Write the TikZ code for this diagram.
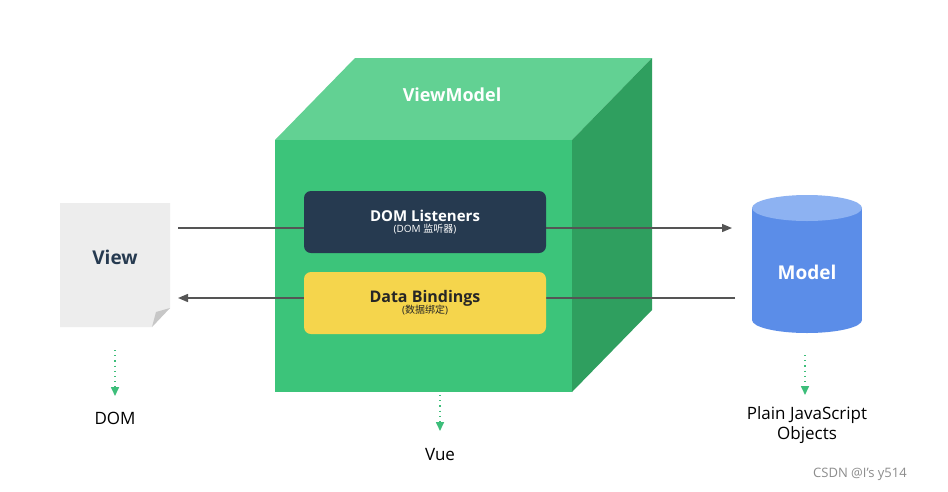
\documentclass[tikz,border=0pt]{standalone}
\usepackage{fontspec}
\setmainfont{Open Sans}
\newfontfamily\cjk{Noto Sans CJK SC}
\usetikzlibrary{shapes.geometric,arrows.meta}
\definecolor{gfront}{HTML}{3CC47A}
\definecolor{gtop}{HTML}{62D193}
\definecolor{gside}{HTML}{2F9F5F}
\definecolor{navy}{HTML}{263A50}
\definecolor{yel}{HTML}{F5D54C}
\definecolor{blu}{HTML}{5B8DE8}
\definecolor{blut}{HTML}{8DB2F2}
\definecolor{dots}{HTML}{3DBE7A}
\definecolor{ln}{HTML}{555555}
\begin{document}
\begin{tikzpicture}[x=1pt,y=-1pt,
  box/.style={rounded corners=7pt,minimum width=242pt,minimum height=62pt,inner sep=0pt},
  conn/.style={ln,line width=1.4pt},
  dotarr/.style={dots,line width=1.6pt,dash pattern=on 1.2pt off 4pt,-{Triangle[width=8pt,length=9pt,sep=-3pt]}},
  lbl/.style={font=\fontsize{17}{20}\selectfont,text=black,align=center}]
\useasboundingbox (0,0) rectangle (948,491);
\fill[white] (0,0) rectangle (948,491);
% cube
\fill[gtop] (275,140) -- (355,58) -- (652,58) -- (572,140) -- cycle;
\fill[gside] (572,140) -- (652,58) -- (652,310) -- (572,392) -- cycle;
\fill[gfront] (275,140) rectangle (572,392);
\node[text=white,font=\bfseries\fontsize{18}{20}\selectfont] (vmt) at (452,95) {ViewModel};
% view
\fill[black!7] (60,203) -- (170,203) -- (170,308) -- (152,327) -- (60,327) -- cycle;
\fill[black!22] (170,308) -- (152,327) -- (156,312) -- cycle;
\node[font=\bfseries\fontsize{19}{22}\selectfont,text=navy] (view) at (115,257) {View};
% model
\fill[blu] (752,208) rectangle (862,320);
\fill[blu] (807,320) ellipse (55pt and 13pt);
\fill[blut] (807,208) ellipse (55pt and 13pt);
\node[font=\bfseries\fontsize{19}{22}\selectfont,text=white] (model) at (807,272) {Model};
\coordinate (vR) at (178,228); \coordinate (vR2) at (178,298);
\coordinate (mL) at (732,228); \coordinate (mL2) at (735,298);
\draw[conn,-{Triangle[width=8pt,length=10pt]}] (vR) -- (mL);
\draw[conn,-{Triangle[width=8pt,length=10pt]}] (mL2) -- (vR2);
% boxes
\node[box,fill=navy,text=white,align=center] (dl) at (425,222)
 {{\bfseries\fontsize{15}{17}\selectfont DOM Listeners}\\[-1pt]{\fontsize{10}{12}\selectfont (DOM {\cjk 监听器})}};
\node[box,fill=yel,text=black!85,align=center] (db) at (425,303)
 {{\bfseries\fontsize{16}{18}\selectfont Data Bindings}\\[-2pt]{\fontsize{10}{12}\selectfont ({\cjk 数据绑定})}};
% dotted arrows
\coordinate (d1) at (115,350); \coordinate (d1e) at (115,393);
\coordinate (d2) at (440,395); \coordinate (d2e) at (440,428);
\coordinate (d3) at (805,355); \coordinate (d3e) at (805,392);
\draw[dotarr] (d1) -- (d1e);
\draw[dotarr] (d2) -- (d2e);
\draw[dotarr] (d3) -- (d3e);
\node[lbl] (dom) at (115,418) {DOM};
\node[lbl] (vue) at (440,455) {Vue};
\node[lbl] (pjo) at (807,425) {Plain JavaScript\\Objects};
\node[font=\fontsize{13}{15}\selectfont,text=black!45] (wm) at (860,474) {CSDN @I's y514};
\end{tikzpicture}
\end{document}
